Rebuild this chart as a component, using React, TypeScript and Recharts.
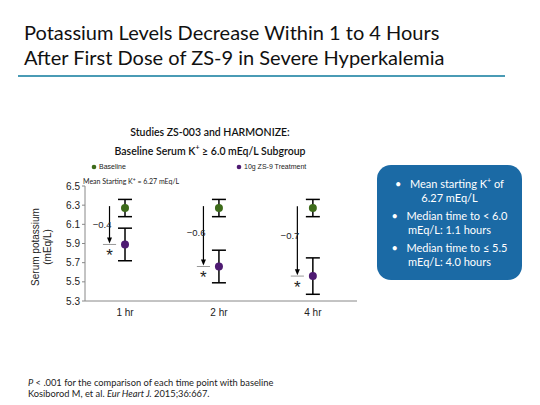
import React from "react";
import {
  ComposedChart,
  Scatter,
  ErrorBar,
  XAxis,
  YAxis,
  ReferenceLine,
  ReferenceDot,
} from "recharts";

const timePoints = ["1 hr", "2 hr", "4 hr"];
const baselineMean = [6.27, 6.27, 6.27];
const baselineErr = [0.09, 0.09, 0.09];
const treatmentMean = [5.89, 5.66, 5.56];
const treatmentErr = [0.17, 0.17, 0.19];
const changeLabels = ["\u22120.4", "\u22120.6", "\u22120.7"];
const changeLabelY = [6.1, 6.01, 5.98];
const yTicks = [5.3, 5.5, 5.7, 5.9, 6.1, 6.3, 6.5];

const GREEN = "#3d6b1a";
const PURPLE = "#4e1a72";
const ARROW_OFFSET = -0.165;
const FONT = "'Liberation Sans', Arial, sans-serif";
const CAL = "Lato, 'Open Sans', sans-serif";

const baselineData = timePoints.map((t, i) => ({ x: i + 1, y: baselineMean[i], err: baselineErr[i] }));
const treatmentData = timePoints.map((t, i) => ({ x: i + 1, y: treatmentMean[i], err: treatmentErr[i] }));

const ArrowHead = (props: any) => {
  const { cx, cy } = props;
  return <path d={`M${cx - 2.5},${cy - 6} L${cx + 2.5},${cy - 6} L${cx},${cy} Z`} fill="#000" />;
};

const makeText = (text: string, dx: number, anchor: string, size: number) => (props: any) => {
  const { cx, cy } = props;
  return (
    <text x={cx + dx} y={cy} dy="0.35em" textAnchor={anchor} fontSize={size} fontFamily={FONT} fill="#222">
      {text}
    </text>
  );
};

export default function App() {
  return (
    <div style={{ position: "absolute", left: 0, top: 0, width: 540, height: 405, background: "#fff", overflow: "hidden" }}>
      <div style={{ position: "absolute", left: 24, top: 20, fontFamily: CAL, fontSize: 20, lineHeight: "25px", color: "#111", whiteSpace: "nowrap" }}>
        Potassium Levels Decrease Within 1 to 4 Hours
        <br />
        After First Dose of ZS-9 in Severe Hyperkalemia
      </div>
      <div style={{ position: "absolute", left: 18, top: 75, width: 487, height: 1.5, background: "#4a9bb5" }} />

      <div style={{ position: "absolute", left: 60, top: 125, width: 300, textAlign: "center", fontFamily: CAL, fontSize: 10.5, lineHeight: "15px", color: "#111", fontWeight: 600 }}>
        Studies ZS-003 and HARMONIZE:
        <br />
        Baseline Serum K<sup style={{ fontSize: 7 }}>+</sup> &#8805; 6.0 mEq/L Subgroup
      </div>

      <ComposedChart
        width={540}
        height={405}
        margin={{ top: 186, right: 183, bottom: 74, left: 45 }}
        style={{ position: "absolute", left: 0, top: 0 }}
      >
        <XAxis
          type="number"
          dataKey="x"
          domain={[0.574, 3.47]}
          ticks={[1, 2, 3]}
          tickFormatter={(v: number) => timePoints[v - 1]}
          tickLine={false}
          axisLine={{ stroke: "#888" }}
          tick={{ fontSize: 10, fontFamily: FONT, fill: "#222" }}
          height={30}
          allowDataOverflow
        />
        <YAxis
          type="number"
          dataKey="y"
          domain={[5.3, 6.5]}
          ticks={yTicks}
          tickFormatter={(v: number) => v.toFixed(1)}
          width={40}
          tickSize={3}
          tickLine={{ stroke: "#888" }}
          axisLine={{ stroke: "#888" }}
          tick={{ fontSize: 10, fontFamily: FONT, fill: "#222" }}
          allowDataOverflow
        />
        {timePoints.map((t, i) => {
          const ax = i + 1 + ARROW_OFFSET;
          return (
            <React.Fragment key={t}>
              <ReferenceLine
                segment={[{ x: ax - 0.07, y: treatmentMean[i] }, { x: ax + 0.07, y: treatmentMean[i] }]}
                stroke="#999"
                strokeWidth={1}
              />
              <ReferenceLine
                segment={[{ x: ax, y: baselineMean[i] + 0.02 }, { x: ax, y: treatmentMean[i] + 0.06 }]}
                stroke="#000"
                strokeWidth={1.2}
              />
              <ReferenceDot x={ax} y={treatmentMean[i] + 0.01} r={3} shape={ArrowHead} />
              <ReferenceDot x={ax} y={changeLabelY[i]} r={3} shape={makeText(changeLabels[i], 2, "end", 9.5)} />
              <ReferenceDot x={ax} y={treatmentMean[i] - 0.11} r={3} shape={makeText("*", 0, "middle", 17)} />
            </React.Fragment>
          );
        })}
        <Scatter name="Baseline" data={baselineData} fill={GREEN} isAnimationActive={false} shape={(p: any) => <circle cx={p.cx} cy={p.cy} r={4} fill={GREEN} />}>
          <ErrorBar dataKey="err" direction="y" width={7} stroke="#000" strokeWidth={1.5} />
        </Scatter>
        <Scatter name="10g ZS-9 Treatment" data={treatmentData} fill={PURPLE} isAnimationActive={false} shape={(p: any) => <circle cx={p.cx} cy={p.cy} r={4} fill={PURPLE} />}>
          <ErrorBar dataKey="err" direction="y" width={7} stroke="#000" strokeWidth={1.5} />
        </Scatter>
      </ComposedChart>

      <svg width={540} height={405} style={{ position: "absolute", left: 0, top: 0, pointerEvents: "none" }}>
        <text x={35} y={247} transform="rotate(-90 35 247)" dy="0.35em" textAnchor="middle" fontSize={10} fontFamily={FONT} fill="#222">
          Serum potassium
        </text>
        <text x={47} y={247} transform="rotate(-90 47 247)" dy="0.35em" textAnchor="middle" fontSize={10} fontFamily={FONT} fill="#222">
          (mEq/L)
        </text>
        <circle cx={94} cy={167} r={2.3} fill={GREEN} />
        <text x={99} y={167} dy="0.35em" fontSize={7} fontFamily={FONT} fill="#222">Baseline</text>
        <circle cx={239} cy={167} r={2.3} fill={PURPLE} />
        <text x={244} y={167} dy="0.35em" fontSize={7} fontFamily={FONT} fill="#222">10g ZS-9 Treatment</text>
        <text x={83} y={182} dy="0.35em" fontSize={7} fontFamily={CAL} fill="#222">
          Mean Starting K<tspan fontSize={5} dy="-2">+</tspan><tspan dy="2"> = 6.27 mEq/L</tspan>
        </text>
      </svg>

      <div
        style={{
          position: "absolute",
          left: 377,
          top: 165,
          width: 145,
          height: 115,
          borderRadius: 14,
          background: "#1b6aa5",
          color: "#fff",
          fontFamily: CAL,
          fontSize: 11,
          lineHeight: "14px",
          textAlign: "center",
          boxSizing: "border-box",
          paddingTop: 8,
        }}
      >
        <div>&bull;&nbsp;&nbsp; Mean starting K<sup style={{ fontSize: 7 }}>+</sup> of</div>
        <div>6.27 mEq/L</div>
        <div style={{ marginTop: 4 }}>&bull;&nbsp;&nbsp; Median time to &lt; 6.0</div>
        <div>mEq/L: 1.1 hours</div>
        <div style={{ marginTop: 4 }}>&bull;&nbsp;&nbsp; Median time to &#8804; 5.5</div>
        <div>mEq/L: 4.0 hours</div>
      </div>

      <div style={{ position: "absolute", left: 28, top: 377, fontFamily: CAL, fontSize: 9.3, lineHeight: "11px", color: "#222", whiteSpace: "nowrap" }}>
        <i>P</i> &lt; .001 for the comparison of each time point with baseline
        <br />
        Kosiborod M, et al. <i>Eur Heart J.</i> 2015;36:667.
      </div>
    </div>
  );
}
